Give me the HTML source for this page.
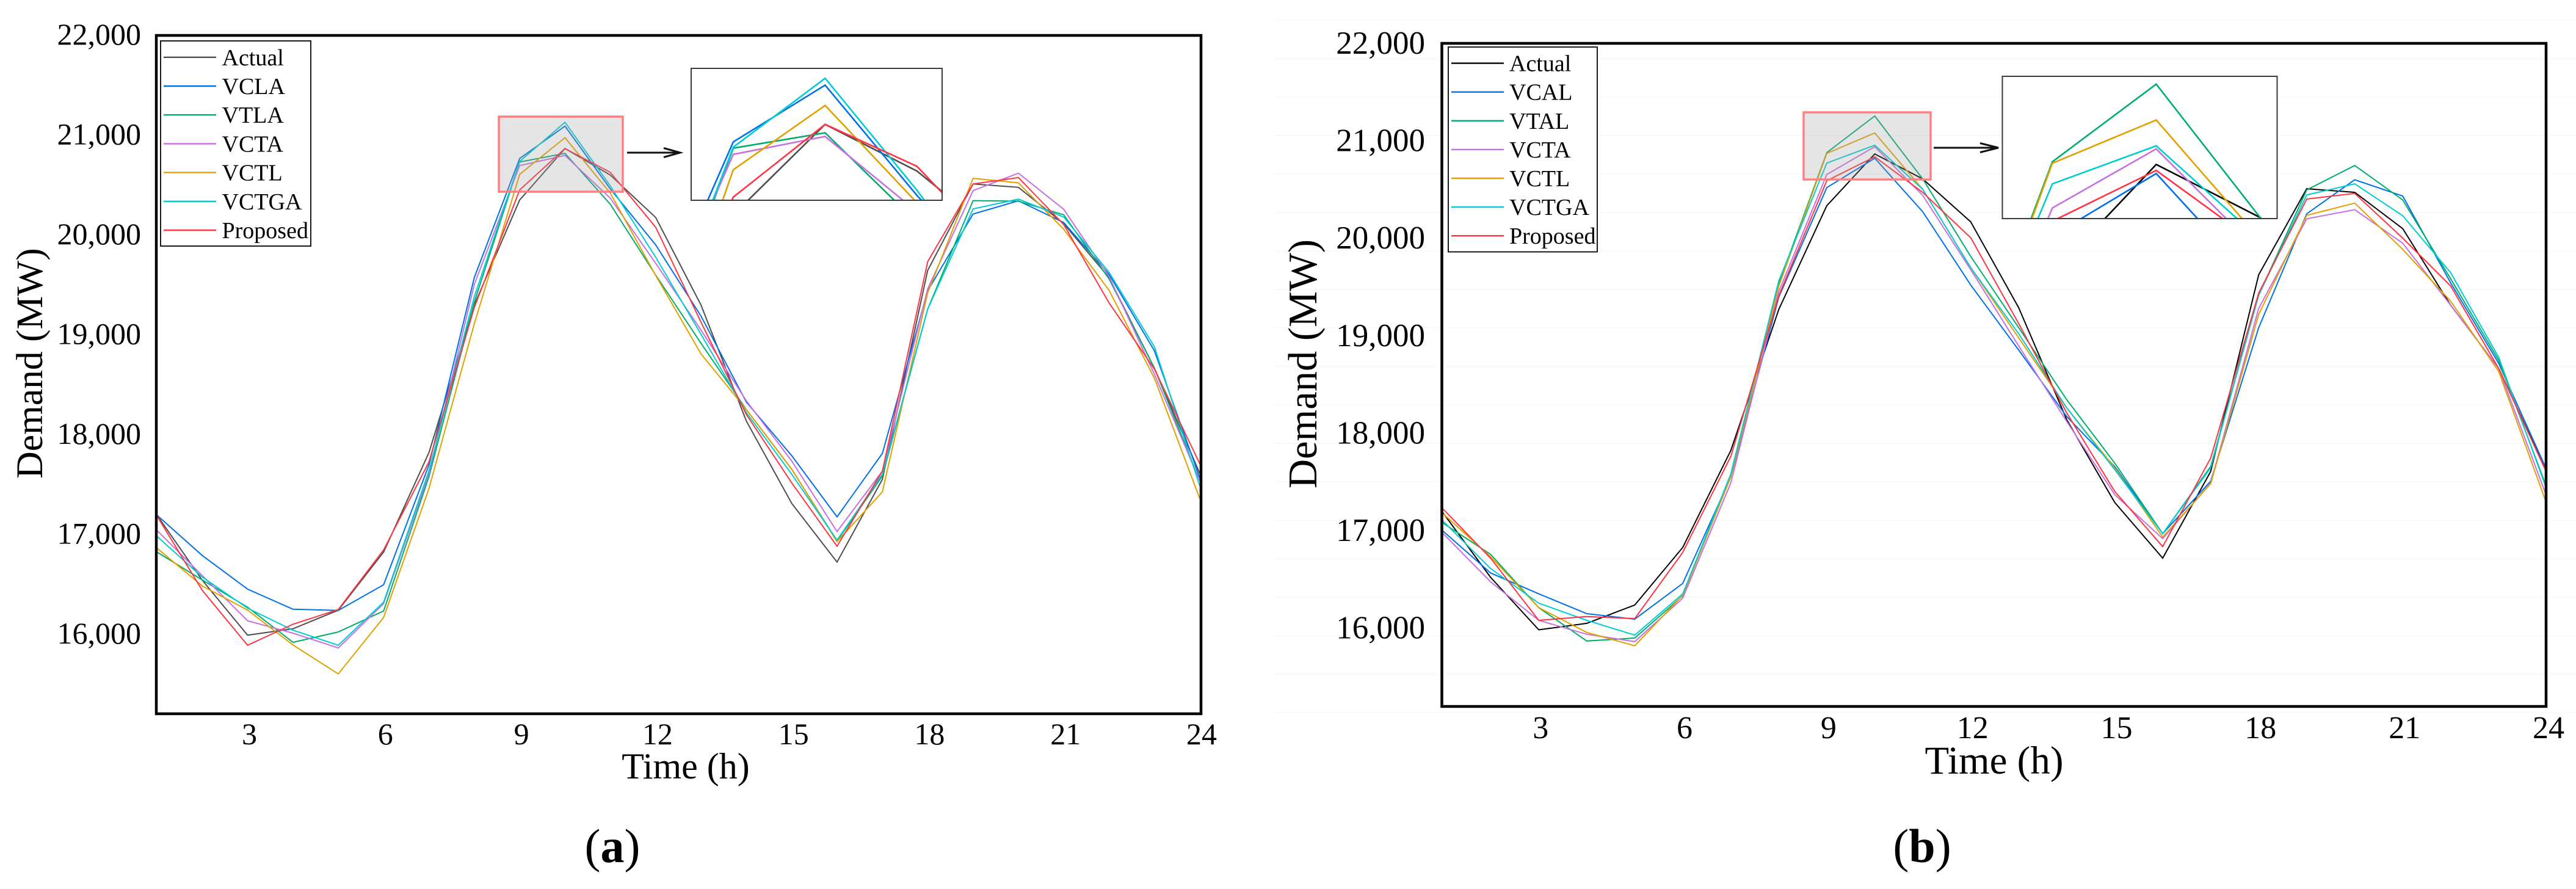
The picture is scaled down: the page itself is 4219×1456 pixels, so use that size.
<!DOCTYPE html>
<html lang="en">
<head>
<meta charset="utf-8">
<title>Demand forecast comparison</title>
<style>
html,body{margin:0;padding:0;background:#fff;overflow:hidden;width:4219px;height:1456px;}
svg{display:block;}
text{font-family:"Liberation Serif",serif;fill:#000;}
</style>
</head>
<body>
<svg id="figure" xmlns="http://www.w3.org/2000/svg" width="4219" height="1456" viewBox="0 0 4219 1456">
  <rect x="0" y="0" width="4219" height="1456" fill="#fff"/>
  <g id="bands-b"></g>
  <g id="panel-a"></g>
  <g id="panel-b"></g>

  <text transform="translate(69,595) rotate(-90)" text-anchor="middle" font-size="61.5">Demand (MW)</text>
  <text x="1123" y="1275" text-anchor="middle" font-size="60">Time (h)</text>
  <text x="1003" y="1412" text-anchor="middle" font-size="78">(<tspan font-weight="bold">a</tspan>)</text>

  <text transform="translate(2156,596) rotate(-90)" text-anchor="middle" font-size="66.5">Demand (MW)</text>
  <text x="3266" y="1267" text-anchor="middle" font-size="65">Time (h)</text>
  <text x="3148" y="1412" text-anchor="middle" font-size="78">(<tspan font-weight="bold">b</tspan>)</text>
</svg>
<script>
var hours = [1,2,3,4,5,6,7,8,9,10,11,12,13,14,15,16,17,18,19,20,21,22,23,24];
var xTickHours = [3,6,9,12,15,18,21,24];
var xTickLabels = ["3","6","9","12","15","18","21","24"];
var yTickValues = [16000,17000,18000,19000,20000,21000,22000];
var yTickLabels = ["16,000","17,000","18,000","19,000","20,000","21,000","22,000"];

var namesA = ["Actual","VCLA","VTLA","VCTA","VCTL","VCTGA","Proposed"];
var namesB = ["Actual","VCAL","VTAL","VCTA","VCTL","VCTGA","Proposed"];

var actualA   = [17183,16530,15980,16044,16230,16813,17810,19288,20339,20855,20589,20164,19287,18125,17300,16712,17541,19634,20500,20466,20103,19560,18655,17600];
var vclaA     = [17183,16778,16441,16240,16228,16485,17686,19562,20755,21079,20450,19889,19176,18315,17778,17165,17801,19430,20199,20331,20113,19593,18829,17556];
var vtlaA     = [16813,16533,16260,15908,16012,16222,17568,19315,20719,20807,20296,19587,18904,18240,17642,16923,17575,19247,20333,20327,20191,19548,18655,17526];
var vctaA     = [17030,16577,16124,16000,15852,16296,17598,19493,20684,20786,20357,19705,19036,18327,17724,17018,17624,19450,20433,20608,20246,19573,18594,17526];
var vctlA     = [16852,16473,16231,15882,15592,16157,17450,19100,20596,20963,20408,19583,18798,18240,17642,16916,17416,19410,20556,20511,20046,19434,18554,17348];
var vctgaA    = [16970,16562,16251,16030,15879,16311,17627,19370,20725,21118,20480,19766,18994,18210,17592,16932,17592,19247,20250,20348,20168,19614,18869,17474];
var proposedA = [17175,16429,15879,16089,16237,16834,17716,19263,20440,20855,20616,20066,19115,18190,17506,16871,17624,19722,20500,20564,20093,19308,18645,17697];

var actualB   = [17182,16515,15979,16045,16233,16824,17818,19266,20331,20862,20605,20165,19283,18136,17286,16714,17604,19622,20505,20468,20096,19309,18661,17604];
var vcalB     = [16994,16561,16348,16145,16088,16455,17545,19392,20516,20818,20269,19517,18849,18167,17654,16965,17504,19079,20248,20597,20430,19538,18713,17620];
var vtalB     = [17076,16752,16206,15864,15894,16327,17576,19532,20875,21251,20605,19810,19079,18340,17690,16965,17655,19413,20493,20743,20390,19580,18745,17440];
var vctaB     = [16970,16470,16076,15933,15858,16303,17485,19448,20651,20937,20436,19674,18891,18118,17366,16914,17485,19277,20196,20290,19946,19309,18661,17347];
var vctlB     = [17172,16727,16206,15952,15815,16333,17545,19504,20868,21077,20499,19695,18974,18256,17641,16930,17479,19215,20232,20357,19883,19350,18630,17272];
var vctgaB    = [17097,16606,16252,16076,15924,16348,17576,19560,20768,20952,20499,19695,19016,18256,17623,16965,17641,19413,20441,20555,20228,19643,18776,17420];
var proposedB = [17221,16712,16076,16115,16094,16773,17758,19406,20587,20833,20467,20002,19120,18205,17399,16833,17742,19434,20399,20457,19998,19507,18661,17590];

var NS = "http://www.w3.org/2000/svg";

function make(tag, parent, attrs, txt) {
  var el = document.createElementNS(NS, tag);
  for (var k in attrs) { el.setAttribute(k, attrs[k]); }
  if (txt !== undefined) { el.textContent = txt; }
  parent.appendChild(el);
  return el;
}
function slug(s) { return s.toLowerCase(); }

function drawPanel(p) {
  var root = document.getElementById(p.id);
  var xPx = function (h) { return p.x1 + (h - 1) * (p.x24 - p.x1) / 23; };
  var yPx = function (v) { return p.yTop + (22000 - v) * p.k; };
  var xIn = function (x) { return p.inset.x + (x - p.zoom.x) * p.inset.w / p.zoom.w; };
  var yIn = function (y) { return p.inset.y + (y - p.zoom.y) * p.inset.h / p.zoom.h; };
  var hourStep = (p.x24 - p.x1) / 23;
  var nearZoom = function (h) {
    var x = xPx(h);
    return x >= p.zoom.x - hourStep && x <= p.zoom.x + p.zoom.w + hourStep;
  };

  var defs = make("defs", root, {});
  var clip = make("clipPath", defs, { id: p.id + "-inset-clip" });
  make("rect", clip, { x: p.inset.x, y: p.inset.y, width: p.inset.w, height: p.inset.h });

  // main series
  var mainG = make("g", root, { fill: "none" });
  
  
  p.series.forEach(function (vals, i) {
    var pts = vals.map(function (v, j) { return xPx(hours[j]).toFixed(1) + "," + yPx(v).toFixed(1); }).join(" ");
    var line = make("polyline", mainG, { points: pts, stroke: p.colors[i], "stroke-width": 2, "stroke-linejoin": "miter" });
    
    
  });

  // zoom highlight rectangle
  var zr = make("rect", root, { x: p.zoom.x, y: p.zoom.y, width: p.zoom.w, height: p.zoom.h, fill: "#a0a0a0", "fill-opacity": 0.27, stroke: "#ff8080", "stroke-width": 3.5 });
  
  

  // arrow
  var ar = make("path", root, { d: "M" + p.arrow.x0 + " " + p.arrow.y + "H" + p.arrow.x1 + "M" + p.arrow.hx + " " + (p.arrow.y - 7.5) + "L" + p.arrow.x1 + " " + p.arrow.y + "L" + p.arrow.hx + " " + (p.arrow.y + 7.5), fill: "none", stroke: "#111", "stroke-width": 3 });
  
  

  // inset
  var ib = make("rect", root, { x: p.inset.x, y: p.inset.y, width: p.inset.w, height: p.inset.h, fill: "#fff", stroke: "#3a3a3a", "stroke-width": 2 });
  
  
  var insetG = make("g", root, { fill: "none", "clip-path": "url(#" + p.id + "-inset-clip)" });
  
  
  p.series.forEach(function (vals, i) {
    var coords = [];
    vals.forEach(function (v, j) {
      if (nearZoom(hours[j])) {
        coords.push(xIn(xPx(hours[j])).toFixed(1) + "," + yIn(yPx(v)).toFixed(1));
      }
    });
    var line = make("polyline", insetG, { points: coords.join(" "), stroke: p.colors[i], "stroke-width": 2.6 });
    
    
  });
  var ib2 = make("rect", root, { x: p.inset.x, y: p.inset.y, width: p.inset.w, height: p.inset.h, fill: "none", stroke: "#3a3a3a", "stroke-width": 2 });
  
  

  // frame
  var fr = make("rect", root, { x: p.frameLeft, y: p.frameTop, width: p.frameRight - p.frameLeft, height: p.frameBottom - p.frameTop, fill: "none", stroke: "#000", "stroke-width": 4.5 });
  
  

  // y ticks
  yTickValues.forEach(function (v, i) {
    var t = make("text", root, { x: p.yLabelRight, y: (yPx(v) + p.yBase).toFixed(1), "text-anchor": "end", "font-size": p.tickFont }, yTickLabels[i]);
    
    
  });
  // x ticks
  xTickHours.forEach(function (h, i) {
    var t = make("text", root, { x: (xPx(h) + 3).toFixed(1), y: p.xLabelY, "text-anchor": "middle", "font-size": p.xTickFont }, xTickLabels[i]);
    
    
  });

  // legend
  var lg = make("g", root, {});
  
  
  var lb = make("rect", lg, { x: p.legend.x, y: p.legend.y, width: p.legend.w, height: p.legend.h, fill: "#fff", stroke: "#000", "stroke-width": 1.8 });
  
  
  p.names.forEach(function (n, i) {
    var yy = p.legend.first + i * p.legend.step;
    var e = make("g", lg, {});
    
    
    make("line", e, { x1: p.legend.s0, x2: p.legend.s1, y1: yy, y2: yy, stroke: p.colors[i], "stroke-width": 2.4 });
    make("text", e, { x: p.legend.tx, y: yy + 13, "font-size": 38 }, n);
  });
}

drawPanel({
  id: "panel-a", names: namesA,
  series: [actualA, vclaA, vtlaA, vctaA, vctlA, vctgaA, proposedA],
  colors: ["#4d4d4d", "#0070e8", "#00ad6c", "#c670e4", "#e2a000", "#00ccd2", "#ff3442"],
  x1: 257, x24: 1965, yTop: 56, k: 0.1635,
  frameLeft: 256, frameTop: 58, frameBottom: 1169, frameRight: 1967,
  zoom: { x: 817, y: 191, w: 203, h: 123 },
  inset: { x: 1132, y: 112, w: 411, h: 216 },
  arrow: { x0: 1027, x1: 1114, hx: 1087, y: 250 },
  yLabelRight: 231, yBase: 17, tickFont: 50, xTickFont: 50, xLabelY: 1219,
  legend: { x: 263, y: 67, w: 246, h: 336, first: 93.8, step: 47.2, s0: 268, s1: 354, tx: 363.5 }
});
drawPanel({
  id: "panel-b", names: namesB,
  series: [actualB, vcalB, vtalB, vctaB, vctlB, vctgaB, proposedB],
  colors: ["#000000", "#0070e8", "#00ad6c", "#c670e4", "#e2a000", "#00ccd2", "#ff3442"],
  x1: 2363, x24: 4171, yTop: 70.5, k: 0.1596,
  frameLeft: 2361.5, frameTop: 71, frameBottom: 1157, frameRight: 4170,
  zoom: { x: 2954, y: 184, w: 208, h: 110 },
  inset: { x: 3279.5, y: 125, w: 450, h: 233 },
  arrow: { x0: 3167, x1: 3273, hx: 3243, y: 242 },
  yLabelRight: 2334, yBase: 17.5, tickFont: 53, xTickFont: 52, xLabelY: 1209,
  legend: { x: 2372, y: 77, w: 244, h: 335.5, first: 103.6, step: 47.1, s0: 2377, s1: 2463, tx: 2472 }
});

// Faint horizontal bands behind panel b
var bands = document.getElementById("bands-b");
for (var b = 0; b < 19; b++) {
  var bandLine = make("line", bands, { x1: 2088, x2: 4219, y1: 96 + b * 63 - 63, y2: 96 + b * 63 - 63, stroke: "#f8f8f8", "stroke-width": 1.5 });
  
  
}
</script>
</body>
</html>
